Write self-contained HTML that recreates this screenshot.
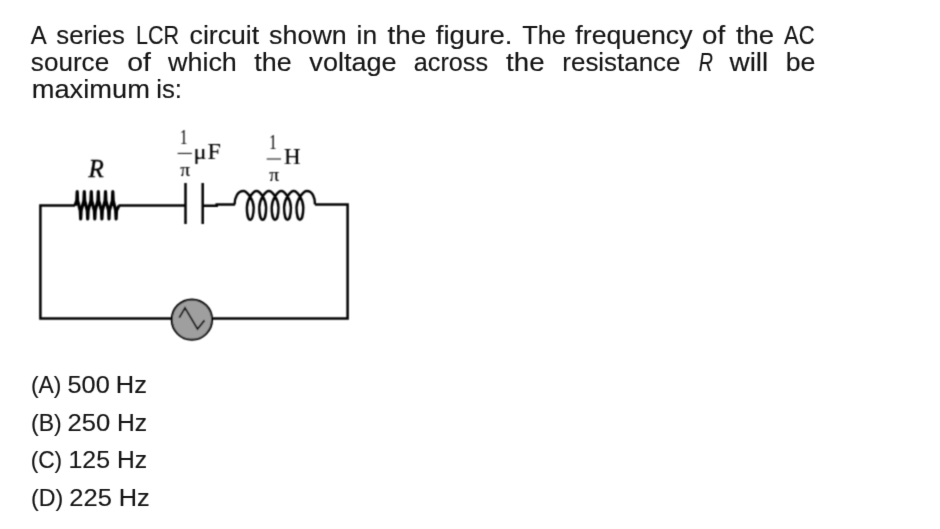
<!DOCTYPE html>
<html><head><meta charset="utf-8"><style>
html,body{margin:0;padding:0;background:#fff;width:940px;height:529px;overflow:hidden}
svg{display:block}
</style></head><body>
<svg width="940" height="529" viewBox="0 0 940 529"><defs><filter id="bl" x="0" y="0" width="940" height="529" filterUnits="userSpaceOnUse"><feConvolveMatrix order="3" kernelMatrix="0.0053 0.062 0.0053 0.062 0.731 0.062 0.0053 0.062 0.0053" edgeMode="none"/></filter><filter id="bl2" x="0" y="0" width="940" height="529" filterUnits="userSpaceOnUse"><feConvolveMatrix order="3" kernelMatrix="0.0439 0.1217 0.0439 0.1217 0.3376 0.1217 0.0439 0.1217 0.0439" edgeMode="none"/></filter></defs><g filter="url(#bl)">
<g font-family="Liberation Sans, sans-serif" fill="#161616" stroke="#161616" stroke-width="0.15">
<text x="30.80" y="43.7" font-size="25.0" textLength="15.98" lengthAdjust="spacingAndGlyphs">A</text>
<text x="56.38" y="43.7" font-size="25.0" textLength="68.52" lengthAdjust="spacingAndGlyphs">series</text>
<text x="135.94" y="43.7" font-size="25.0" textLength="43.06" lengthAdjust="spacingAndGlyphs">LCR</text>
<text x="189.63" y="43.7" font-size="25.0" textLength="69.56" lengthAdjust="spacingAndGlyphs">circuit</text>
<text x="269.13" y="43.7" font-size="25.0" textLength="77.55" lengthAdjust="spacingAndGlyphs">shown</text>
<text x="356.63" y="43.7" font-size="25.0" textLength="20.52" lengthAdjust="spacingAndGlyphs">in</text>
<text x="387.54" y="43.7" font-size="25.0" textLength="38.75" lengthAdjust="spacingAndGlyphs">the</text>
<text x="435.85" y="43.7" font-size="25.0" textLength="76.57" lengthAdjust="spacingAndGlyphs">figure.</text>
<text x="522.20" y="43.7" font-size="25.0" textLength="43.68" lengthAdjust="spacingAndGlyphs">The</text>
<text x="575.36" y="43.7" font-size="25.0" textLength="117.14" lengthAdjust="spacingAndGlyphs">frequency</text>
<text x="702.09" y="43.7" font-size="25.0" textLength="23.05" lengthAdjust="spacingAndGlyphs">of</text>
<text x="735.94" y="43.7" font-size="25.0" textLength="38.23" lengthAdjust="spacingAndGlyphs">the</text>
<text x="784.02" y="43.7" font-size="25.0" textLength="30.52" lengthAdjust="spacingAndGlyphs">AC</text>
<text x="30.86" y="70.9" font-size="25.0" textLength="78.30" lengthAdjust="spacingAndGlyphs">source</text>
<text x="127.16" y="70.9" font-size="25.0" textLength="23.69" lengthAdjust="spacingAndGlyphs">of</text>
<text x="167.99" y="70.9" font-size="25.0" textLength="68.86" lengthAdjust="spacingAndGlyphs">which</text>
<text x="254.35" y="70.9" font-size="25.0" textLength="37.39" lengthAdjust="spacingAndGlyphs">the</text>
<text x="309.36" y="70.9" font-size="25.0" textLength="87.24" lengthAdjust="spacingAndGlyphs">voltage</text>
<text x="413.80" y="70.9" font-size="25.0" textLength="74.24" lengthAdjust="spacingAndGlyphs">across</text>
<text x="506.14" y="70.9" font-size="25.0" textLength="38.44" lengthAdjust="spacingAndGlyphs">the</text>
<text x="562.36" y="70.9" font-size="25.0" textLength="118.04" lengthAdjust="spacingAndGlyphs">resistance</text>
<text x="698.67" y="70.9" font-size="25.0" font-style="italic" textLength="14.18" lengthAdjust="spacingAndGlyphs">R</text>
<text x="729.59" y="70.9" font-size="25.0" textLength="38.64" lengthAdjust="spacingAndGlyphs">will</text>
<text x="785.73" y="70.9" font-size="25.0" textLength="29.65" lengthAdjust="spacingAndGlyphs">be</text>
<text x="31.75" y="98.0" font-size="25.0" textLength="118.11" lengthAdjust="spacingAndGlyphs">maximum</text>
<text x="156.26" y="98.0" font-size="25.0" textLength="25.79" lengthAdjust="spacingAndGlyphs">is:</text>
<text x="30.93" y="393.1" font-size="23.7" textLength="30.41" lengthAdjust="spacingAndGlyphs">(A)</text>
<text x="67.54" y="393.1" font-size="23.7" textLength="42.18" lengthAdjust="spacingAndGlyphs">500</text>
<text x="115.86" y="393.1" font-size="23.7" textLength="31.07" lengthAdjust="spacingAndGlyphs">Hz</text>
<text x="31.02" y="430.7" font-size="23.7" textLength="30.63" lengthAdjust="spacingAndGlyphs">(B)</text>
<text x="67.53" y="430.7" font-size="23.7" textLength="42.69" lengthAdjust="spacingAndGlyphs">250</text>
<text x="117.02" y="430.7" font-size="23.7" textLength="30.16" lengthAdjust="spacingAndGlyphs">Hz</text>
<text x="30.64" y="468.2" font-size="23.7" textLength="31.51" lengthAdjust="spacingAndGlyphs">(C)</text>
<text x="68.55" y="468.2" font-size="23.7" textLength="41.45" lengthAdjust="spacingAndGlyphs">125</text>
<text x="117.02" y="468.2" font-size="23.7" textLength="30.16" lengthAdjust="spacingAndGlyphs">Hz</text>
<text x="31.01" y="505.7" font-size="23.7" textLength="32.17" lengthAdjust="spacingAndGlyphs">(D)</text>
<text x="69.34" y="505.7" font-size="23.7" textLength="42.49" lengthAdjust="spacingAndGlyphs">225</text>
<text x="118.67" y="505.7" font-size="23.7" textLength="30.96" lengthAdjust="spacingAndGlyphs">Hz</text>
</g>
</g>
<g filter="url(#bl2)">
<g fill="none" stroke="#000" stroke-width="2.5" stroke-linejoin="miter">
<path d="M75 205.6 H40.4 V318.6 H171"/>
<path d="M213 318.6 H347.6 V204.6 H315"/>
<path stroke-linejoin="round" d="M75 205.6 L76.80 200.6 L77.2 191.6 L77.60 200.6 L80.30 210.6 L80.7 218.9 L81.10 210.6 L83.90 200.6 L84.3 191.6 L84.70 200.6 L87.30 210.6 L87.7 218.9 L88.10 210.6 L90.90 200.6 L91.3 191.6 L91.70 200.6 L94.40 210.6 L94.8 218.9 L95.20 210.6 L97.90 200.6 L98.3 191.6 L98.70 200.6 L101.50 210.6 L101.9 218.9 L102.30 210.6 L105.10 200.6 L105.5 191.6 L105.90 200.6 L108.60 210.6 L109.0 218.9 L109.40 210.6 L112.40 200.6 L112.8 191.6 L113.20 200.6 L115.70 210.6 L116.1 218.9 L116.50 210.6 L119 205.6 " stroke-width="3.2"/>
<path d="M118.5 205.6 H185.5"/>
<path d="M185.5 183 V224 M202.7 183 V224"/>
<path d="M202.7 205.7 H216.7 V204.6 H235"/>
<path id="coil" d="M234.6 204.4 C234.6 197.4 237.8 191.0 243.3 191.0 C246.80 191.0 253.70 199.50 253.70 207.50 A3.40 12.30 0 0 1 246.90 207.50 C246.90 199.50 253.00 191.0 256.50 191.0 C260.00 191.0 266.10 199.50 266.10 207.50 A3.40 12.30 0 0 1 259.30 207.50 C259.30 199.50 265.40 191.0 268.90 191.0 C272.40 191.0 278.50 199.50 278.50 207.50 A3.40 12.30 0 0 1 271.70 207.50 C271.70 199.50 277.80 191.0 281.30 191.0 C284.80 191.0 290.90 199.50 290.90 207.50 A3.40 12.30 0 0 1 284.10 207.50 C284.10 199.50 290.20 191.0 293.70 191.0 C297.20 191.0 303.30 199.50 303.30 207.50 A3.40 12.30 0 0 1 296.50 207.50 C296.50 199.50 303.40 191.0 306.90 191.0 C312.40 191.0 315.0 197.4 315.0 204.4" stroke-width="2.4"/>
<circle cx="191.9" cy="319.6" r="20.2" fill="#9f9f9f" stroke-width="2"/>
<path d="M179.3 317.6 L185 307.9 L197.5 329 L204.5 320.4" stroke-width="1.8"/>
</g>
<g font-family="Liberation Serif, serif" fill="#000" stroke="#000" stroke-width="0.15">
<text x="88.6" y="176.6" font-size="25" font-style="italic" stroke-width="0.35">R</text>
<text x="180" y="144" font-size="21" textLength="7.4" lengthAdjust="spacingAndGlyphs">1</text>
<text x="180.2" y="176" font-size="19" textLength="9.9" lengthAdjust="spacingAndGlyphs">π</text>
<text x="193.6" y="158.5" font-size="21" textLength="13" lengthAdjust="spacingAndGlyphs">μ</text>
<text x="207.5" y="159.3" font-size="24">F</text>
<text x="269.2" y="149.3" font-size="21.5" textLength="7.4" lengthAdjust="spacingAndGlyphs">1</text>
<text x="269.2" y="180.8" font-size="19" textLength="9.9" lengthAdjust="spacingAndGlyphs">π</text>
<text x="284" y="163.6" font-size="23">H</text>
</g>
<path d="M177.6 153.4 H191.9 M266.7 159 H281" stroke="#000" stroke-width="1"/>

</g>
</svg>
</body></html>
